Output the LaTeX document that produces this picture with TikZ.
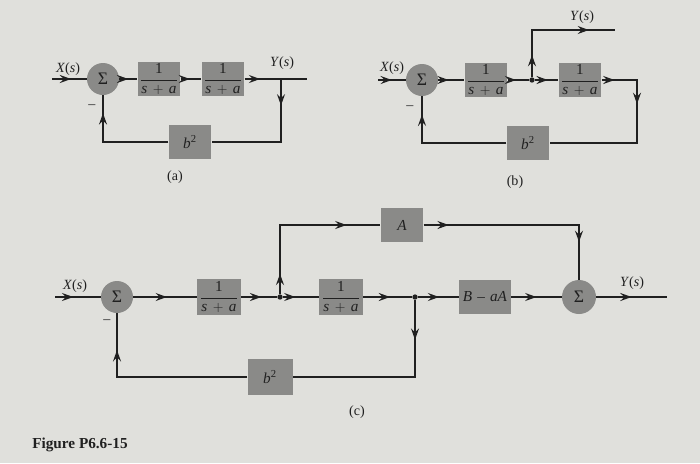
\documentclass[tikz,border=0pt]{standalone}
\usepackage{fontspec}
\setmainfont{Liberation Serif}
\usetikzlibrary{arrows.meta,decorations.markings}
\definecolor{page}{RGB}{224,224,220}
\definecolor{boxgray}{RGB}{138,138,136}
\definecolor{ink}{RGB}{32,32,32}
\tikzset{
  blk/.style={fill=boxgray, minimum width=1.28cm, minimum height=1.04cm, inner sep=0pt, text=ink, font=\fontsize{13}{14}\selectfont},
  sumnode/.style={circle, fill=boxgray, minimum size=0.96cm, inner sep=0pt, text=ink, font=\fontsize{15}{16}\selectfont},
  lbl/.style={text=ink, inner sep=1pt},
  line/.style={draw=ink, line width=1.4pt},
  tip/.style={postaction={decorate, decoration={markings, mark=at position #1 with {\arrow{Stealth[length=3.4mm, width=2.4mm, inset=1.2mm]}}}}},
  dot/.style={circle, fill=ink, inner sep=0pt, minimum size=1.6mm},
}
\newcommand{\fr}{$\displaystyle\frac{\textup{1}}{\textit{s}\,+\,\textit{a}}$}
\newcommand{\xs}{\textit{X}(\textit{s})}
\newcommand{\ys}{\textit{Y}(\textit{s})}
\newcommand{\bsq}{\textit{b}\textsuperscript{2}}
\begin{document}
\begin{tikzpicture}[x=0.03cm, y=-0.03cm, font=\fontsize{12}{13}\selectfont]
        \fill[page] (0,0) rectangle (700,463);
        \useasboundingbox (0,0) rectangle (700,463);
        % (a)
        \coordinate (xa) at (52,79);
        \node[sumnode] (sa) at (103,79) {Σ};
        \node[blk] (a1) at (159,79) {\fr};
        \node[blk] (a2) at (223,79) {\fr};
        \coordinate (ya) at (281,79);
        \coordinate (oa) at (307,79);
        \node[blk] (ba) at (190,142) {\bsq};
        \node[lbl] at (68,69) {\xs};
        \node[lbl] at (282,63) {\ys};
        \node[lbl] at (92,107) {–};
        \node[lbl] at (175,177) {(a)};
        \draw[line, tip=0.55] (xa) -- (sa);
        \draw[line, tip=0.5] (sa) -- (a1);
        \draw[line, tip=0.45] (a1) -- (a2);
        \draw[line, tip=0.25] (a2) -- (oa);
        \draw[line, tip=0.2] (ya) |- (ba.east);
        \draw[line, tip=0.84] (ba.west) -| (sa.south);
        % (b)
        \coordinate (xb) at (378,80);
        \node[sumnode] (sb) at (422,80) {Σ};
        \node[blk] (b1) at (486,80) {\fr};
        \node[dot] (yb) at (532,80) {};
        \node[blk] (b2) at (580,80) {\fr};
        \coordinate (ob) at (615,30);
        \coordinate (rb) at (637,80);
        \node[blk] (bb) at (528,143) {\bsq};
        \node[lbl] at (392,68) {\xs};
        \node[lbl] at (582,17) {\ys};
        \node[lbl] at (410,108) {–};
        \node[lbl] at (515,182) {(b)};
        \draw[line, tip=0.5] (xb) -- (sb);
        \draw[line, tip=0.4] (sb) -- (b1);
        \draw[line, tip=0.4] (b1) -- (yb);
        \draw[line, tip=0.55] (yb) -- (b2);
        \draw[line, tip=0.17, tip=0.8] (yb) |- (ob);
        \draw[line, tip=0.07, tip=0.32] (b2.east) -- (rb) |- (bb.east);
        \draw[line, tip=0.86] (bb.west) -| (sb.south);
        % (c)
        \coordinate (xc) at (55,297);
        \node[sumnode] (sc) at (117,297) {Σ};
        \node[blk, minimum width=1.32cm, minimum height=1.08cm] (c1) at (219,297) {\fr};
        \node[dot] (yc1) at (280,297) {};
        \node[blk, minimum width=1.32cm, minimum height=1.08cm] (c2) at (341,297) {\fr};
        \node[dot] (yc2) at (415,297) {};
        \node[blk, minimum width=1.56cm] (cB) at (485,297) {\textit{B}\,\,–\,\,\textit{aA}};
        \node[sumnode, minimum size=1.02cm] (sd) at (579,297) {Σ};
        \coordinate (oc) at (667,297);
        \node[blk] (cA) at (402,225) {\textit{A}};
        \node[blk, minimum width=1.35cm, minimum height=1.1cm] (bc) at (270,377) {\bsq};
        \node[lbl] at (75,286) {\xs};
        \node[lbl] at (632,283) {\ys};
        \node[lbl] at (107,322) {–};
        \node[lbl] at (357,412) {(c)};
        \draw[line, tip=0.4] (xc) -- (sc);
        \draw[line, tip=0.53] (sc) -- (c1);
        \draw[line, tip=0.56] (c1) -- (yc1);
        \draw[line, tip=0.35] (yc1) -- (c2);
        \draw[line, tip=0.55] (c2) -- (yc2);
        \draw[line, tip=0.52] (yc2) -- (cB);
        \draw[line, tip=0.5] (cB) -- (sd);
        \draw[line, tip=0.5] (sd) -- (oc);
        \draw[line, tip=0.12, tip=0.8] (yc1) |- (cA.west);
        \draw[line, tip=0.12, tip=0.82] (cA.east) -| (sd.north);
        \draw[line, tip=0.2] (yc2) |- (bc.east);
        \draw[line, tip=0.81] (bc.west) -| (sc.south);
        \node[lbl, font=\fontsize{13}{14}\selectfont\bfseries] at (80,445) {Figure P6.6-15};
    \end{tikzpicture}
\end{document}
